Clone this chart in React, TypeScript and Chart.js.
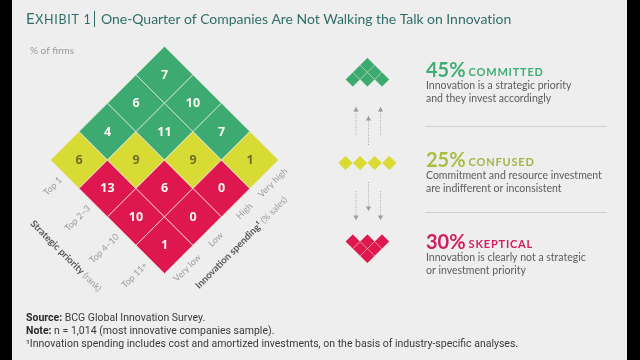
import React, { useEffect, useRef } from "react";
import { Chart, registerables } from "chart.js";

Chart.register(...registerables);

const W = 640;
const H = 360;

// Data
const rankLabels = ["Top 1", "Top 2–3", "Top 4–10", "Top 11+"];
const spendLabels = ["Very low", "Low", "High", "Very high"];
const top1Values = [6, 4, 6, 7];
const top23Values = [13, 9, 11, 10];
const top410Values = [10, 6, 9, 7];
const top11Values = [1, 0, 0, 1];
const rankRows = [top1Values, top23Values, top410Values, top11Values];

const GREEN = "#3daa72";
const YELLOW = "#d8db33";
const RED = "#df174f";

const titleLead = "E";
const titleCaps = "XHIBIT 1";
const titleRest = "One-Quarter of Companies Are Not Walking the Talk on Innovation";
const unitLabel = "% of firms";
const groupNames = ["COMMITTED", "CONFUSED", "SKEPTICAL"];
const groupShares = ["45%", "25%", "30%"];
const groupText = [
  ["Innovation is a strategic priority", "and they invest accordingly"],
  ["Commitment and resource investment", "are indifferent or inconsistent"],
  ["Innovation is clearly not a strategic", "or investment priority"],
];
const footerBold = ["Source:", "Note:"];
const footerPlain = [
  " BCG Global Innovation Survey.",
  " n = 1,014 (most innovative companies sample).",
];
const footerLast =
  "¹Innovation spending includes cost and amortized investments, on the basis of industry-specific analyses.";

type Cell = { x: number; y: number; v: number; group: number };

// group: 0 spending above rank, 1 on the diagonal, 2 below
const cells: Cell[] = rankRows.flatMap((row, r) =>
  row.map((v, s) => ({
    x: r + s,
    y: s - r,
    v,
    group: s > r ? 0 : s === r ? 1 : 2,
  }))
);
const groupColors = [GREEN, YELLOW, RED];
const iconShift = [10.6, 0, -9.9];

const SANS = 'Roboto, sans-serif';
const LATO = 'Lato, sans-serif';

function text(
  ctx: CanvasRenderingContext2D,
  s: string,
  x: number,
  y: number,
  font: string,
  color: string,
  align: CanvasTextAlign = "left",
  spacing = "0px"
) {
  ctx.font = font;
  ctx.fillStyle = color;
  ctx.textAlign = align;
  ctx.textBaseline = "middle";
  (ctx as any).letterSpacing = spacing;
  ctx.fillText(s, x, y);
  const w = ctx.measureText(s).width;
  (ctx as any).letterSpacing = "0px";
  return w;
}

const decorPlugin = {
  id: "decor",
  beforeDraw(chart: any) {
    const ctx: CanvasRenderingContext2D = chart.ctx;
    ctx.save();
    ctx.fillStyle = "#eeeeee";
    ctx.fillRect(0, 0, W, H);
    ctx.fillStyle = "#000000";
    ctx.fillRect(0, 0, 12, H);
    ctx.fillRect(627, 0, 13, H);
    ctx.restore();
  },
  afterDraw(chart: any) {
    const ctx: CanvasRenderingContext2D = chart.ctx;
    ctx.save();

    // Cell values
    const meta = chart.getDatasetMeta(0);
    cells.forEach((c, i) => {
      const p = meta.data[i];
      text(
        ctx,
        String(c.v),
        p.x,
        p.y + 0.5,
        `700 12.5px "Open Sans", sans-serif`,
        c.group === 1 ? "#6f6f2c" : "#f6f6f0",
        "center"
      );
    });

    // Title
    const titleColor = "#2f6e68";
    let tx = 26;
    tx += text(ctx, titleLead, tx, 19, `400 15px ${LATO}`, titleColor, "left", "0.6px");
    tx += text(ctx, titleCaps, tx, 19.5, `400 12.5px ${LATO}`, titleColor, "left", "0.7px");
    ctx.fillStyle = titleColor;
    ctx.fillRect(94, 11, 1, 16);
    text(ctx, titleRest, 101, 19, `400 14px ${LATO}`, titleColor, "left", "-0.04px");

    text(ctx, unitLabel, 30, 51, `400 10px ${LATO}`, "#9b9b9b");

    // Rotated axis labels positioned through the cell scales
    const sx = chart.scales.x;
    const sy = chart.scales.y;
    const rot = (px: number, py: number, angle: number, draw: () => void) => {
      ctx.save();
      ctx.translate(px, py);
      ctx.rotate(angle);
      draw();
      ctx.restore();
    };
    const Q = Math.PI / 4;
    rankLabels.forEach((l, r) => {
      const s = -0.65;
      rot(sx.getPixelForValue(r + s), sy.getPixelForValue(s - r), -Q, () =>
        text(ctx, l, 0, 0, `400 9px ${LATO}`, "#9c9c9c", "right")
      );
    });
    spendLabels.forEach((l, s) => {
      const r = 3.8;
      rot(sx.getPixelForValue(r + s), sy.getPixelForValue(s - r), -Q, () =>
        text(ctx, l, 0, 0, `400 9px ${LATO}`, "#9c9c9c", "center")
      );
    });

    rot(32, 222, Q, () => {
      const w = text(ctx, "Strategic priority", 0, 0, `700 9.6px ${LATO}`, "#555555");
      text(ctx, " (rank)", w, 0, `400 9px ${LATO}`, "#9c9c9c");
    });
    rot(197, 287, -Q, () => {
      const w = text(ctx, "Innovation spending", 0, 0, `700 9.6px ${LATO}`, "#555555");
      const w2 = text(ctx, "¹", w, 0, `700 9.6px ${LATO}`, "#555555");
      text(ctx, " (% sales)", w + w2, 0, `400 9px ${LATO}`, "#9c9c9c");
    });

    // Right column
    const rowY = [71, 161, 243];
    const shareColor = ["#3fae75", "#a9bd3e", "#cf1f5e"];
    const nameColor = ["#3fae75", "#a3b544", "#cf1f5e"];
    groupShares.forEach((share, i) => {
      const w = text(ctx, share, 426, rowY[i], `700 20px ${LATO}`, shareColor[i]);
      text(ctx, groupNames[i], 426 + w + 3, rowY[i] + 1.5, `700 11px ${LATO}`, nameColor[i], "left", "0.8px");
      groupText[i].forEach((line, j) => {
        text(ctx, line, 426, rowY[i] + 15 + j * 12.7, `400 10.5px ${LATO}`, "#5d5d5d");
      });
    });

    ctx.strokeStyle = "#cfcfcf";
    ctx.lineWidth = 1;
    [126.5, 212.5].forEach((y) => {
      ctx.beginPath();
      ctx.moveTo(425, y);
      ctx.lineTo(607, y);
      ctx.stroke();
    });

    // Dotted arrows
    const arrow = (x: number, tail: number, head: number) => {
      const dir = head > tail ? 1 : -1;
      ctx.strokeStyle = "#aaaaaa";
      ctx.setLineDash([1, 1.3]);
      ctx.beginPath();
      ctx.moveTo(x, tail);
      ctx.lineTo(x, head);
      ctx.stroke();
      ctx.setLineDash([]);
      ctx.fillStyle = "#9a9a9a";
      ctx.beginPath();
      ctx.moveTo(x, head);
      ctx.lineTo(x - 2.6, head - dir * 4.5);
      ctx.lineTo(x + 2.6, head - dir * 4.5);
      ctx.closePath();
      ctx.fill();
    };
    arrow(356, 135, 107);
    arrow(368.5, 145, 116);
    arrow(380.5, 135, 107);
    arrow(356, 191, 220);
    arrow(368.5, 182, 211);
    arrow(380.5, 191, 220);

    // Footer
    const fy = [318, 331];
    footerBold.forEach((b, i) => {
      const w = text(ctx, b, 26, fy[i], `700 10.5px ${SANS}`, "#2a2a2a");
      text(ctx, footerPlain[i], 26 + w, fy[i], `400 10.5px ${SANS}`, "#3a3a3a");
    });
    text(ctx, footerLast, 26, 344, `400 10.5px ${SANS}`, "#3a3a3a");

    ctx.restore();
  },
};

const iconData = (g: number) =>
  cells
    .filter((c) => c.group === g)
    .map((c) => ({ x: c.x, y: c.y + iconShift[g] }));

export default function App() {
  const ref = useRef<HTMLCanvasElement>(null);
  useEffect(() => {
    const stepX = 28.5;
    const stepY = 28.4;
    const iconStepX = 7.3;
    const iconStepY = 7.2;
    const chart = new Chart(ref.current!, {
      type: "scatter",
      data: {
        datasets: [
          {
            data: cells.map((c) => ({ x: c.x, y: c.y })),
            pointStyle: "rectRot",
            pointRadius: 28.5,
            pointBackgroundColor: cells.map((c) => groupColors[c.group]),
            pointBorderColor: "rgba(238,238,225,0.75)",
            pointBorderWidth: 1,
            xAxisID: "x",
            yAxisID: "y",
          },
          ...[0, 1, 2].map((g) => ({
            data: iconData(g),
            pointStyle: "rectRot",
            pointRadius: 7.3,
            pointBackgroundColor: groupColors[g],
            pointBorderColor: "rgba(238,238,225,0.55)",
            pointBorderWidth: 0.6,
            xAxisID: "ix",
            yAxisID: "iy",
          })),
        ] as any,
      },
      options: {
        responsive: false,
        animation: false,
        layout: { padding: 0, autoPadding: false },
        events: [],
        plugins: { legend: { display: false }, tooltip: { enabled: false } },
        scales: {
          x: { type: "linear", display: false, min: -79 / stepX, max: (W - 79) / stepX },
          y: { type: "linear", display: false, min: (160 - H) / stepY, max: 160 / stepY },
          ix: { type: "linear", display: false, axis: "x", min: -345.5 / iconStepX, max: (W - 345.5) / iconStepX },
          iy: { type: "linear", display: false, axis: "y", min: (163 - H) / iconStepY, max: 163 / iconStepY },
        } as any,
      },
      plugins: [decorPlugin],
    });
    return () => chart.destroy();
  }, []);
  return (
    <div style={{ position: "absolute", left: 0, top: 0, width: W, height: H }}>
      <canvas ref={ref} width={W} height={H} style={{ display: "block" }} />
    </div>
  );
}
